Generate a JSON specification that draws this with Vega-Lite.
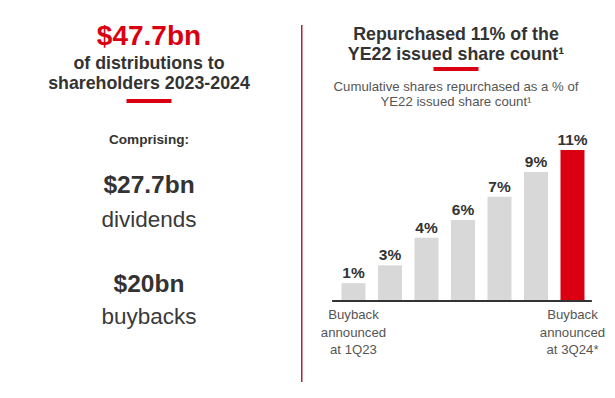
{
  "$schema": "https://vega.github.io/schema/vega-lite/v6.json",
  "padding": 0,
  "background": "white",
  "config": {"view": {"stroke": null}, "text": {"font": "Liberation Sans"}},
  "datasets": {
    "left": [
      {"id": "L1", "text": "$47.7bn"},
      {"id": "L2", "text": "of distributions to"},
      {"id": "L3", "text": "shareholders 2023-2024"},
      {"id": "L4", "text": "Comprising:"},
      {"id": "L5", "text": "$27.7bn"},
      {"id": "L6", "text": "dividends"},
      {"id": "L7", "text": "$20bn"},
      {"id": "L8", "text": "buybacks"}
    ],
    "right": [
      {"id": "R1", "text": "Repurchased 11% of the"},
      {"id": "R2", "text": "YE22 issued share count¹"},
      {"id": "R3", "text": "Cumulative shares repurchased as a % of"},
      {"id": "R4", "text": "YE22 issued share count¹"}
    ],
    "decor": [
      {"element": "underline"},
      {"element": "divider"},
      {"element": "gap"}
    ],
    "buybacks": [
      {"quarter": "1Q23", "pct": 1.3, "label": "1%", "status": "completed"},
      {"quarter": "2Q23", "pct": 2.6, "label": "3%", "status": "completed"},
      {"quarter": "3Q23", "pct": 4.6, "label": "4%", "status": "completed"},
      {"quarter": "4Q23", "pct": 5.9, "label": "6%", "status": "completed"},
      {"quarter": "1Q24", "pct": 7.6, "label": "7%", "status": "completed"},
      {"quarter": "2Q24", "pct": 9.4, "label": "9%", "status": "completed"},
      {"quarter": "3Q24", "pct": 11.0, "label": "11%", "status": "latest"}
    ]
  },
  "hconcat": [
    {
      "hconcat": [
        {
          "vconcat": [
            {"width": 298, "height": 52, "data": {"name": "left"}, "transform": [{"filter": "datum.id === 'L1'"}],
             "mark": {"type": "text", "font": "Liberation Sans", "fontSize": 28, "fontWeight": "bold", "color": "#db0011", "dy": 11},
             "encoding": {"text": {"field": "text"}}},
            {"width": 298, "height": 21.5, "data": {"name": "left"}, "transform": [{"filter": "datum.id === 'L2'"}],
             "mark": {"type": "text", "font": "Liberation Sans", "fontSize": 17.8, "fontWeight": "bold", "color": "#333333", "dy": 0.95},
             "encoding": {"text": {"field": "text"}}},
            {"width": 298, "height": 24.5, "data": {"name": "left"}, "transform": [{"filter": "datum.id === 'L3'"}],
             "mark": {"type": "text", "font": "Liberation Sans", "fontSize": 17.8, "fontWeight": "bold", "color": "#333333", "dy": -2.75},
             "encoding": {"text": {"field": "text"}}},
            {"width": 45, "height": 4, "data": {"name": "decor"}, "transform": [{"filter": "datum.element === 'underline'"}],
             "mark": {"type": "rect", "color": "#db0011"}},
            {"width": 298, "height": 60, "data": {"name": "left"}, "transform": [{"filter": "datum.id === 'L4'"}],
             "mark": {"type": "text", "font": "Liberation Sans", "fontSize": 13.6, "fontWeight": "bold", "color": "#333333", "dy": 6.7},
             "encoding": {"text": {"field": "text"}}},
            {"width": 298, "height": 39.5, "data": {"name": "left"}, "transform": [{"filter": "datum.id === 'L5'"}],
             "mark": {"type": "text", "font": "Liberation Sans", "fontSize": 24.5, "fontWeight": "bold", "color": "#333333", "dy": 3.25},
             "encoding": {"text": {"field": "text"}}},
            {"width": 298, "height": 48.5, "data": {"name": "left"}, "transform": [{"filter": "datum.id === 'L6'"}],
             "mark": {"type": "text", "font": "Liberation Sans", "fontSize": 22.5, "color": "#3a3a3a", "dy": -7.75},
             "encoding": {"text": {"field": "text"}}},
            {"width": 298, "height": 49, "data": {"name": "left"}, "transform": [{"filter": "datum.id === 'L7'"}],
             "mark": {"type": "text", "font": "Liberation Sans", "fontSize": 24.5, "fontWeight": "bold", "color": "#333333", "dy": 8.5},
             "encoding": {"text": {"field": "text"}}},
            {"width": 298, "height": 31, "data": {"name": "left"}, "transform": [{"filter": "datum.id === 'L8'"}],
             "mark": {"type": "text", "font": "Liberation Sans", "fontSize": 22.5, "color": "#3a3a3a", "dy": 0.5},
             "encoding": {"text": {"field": "text"}}}
          ],
          "spacing": 0,
          "bounds": "flush",
          "center": true
        },
        {
          "vconcat": [
            {"width": 1.5, "height": 25, "data": {"name": "decor"}, "transform": [{"filter": "datum.element === 'gap'"}],
             "mark": {"type": "rect", "opacity": 0}},
            {"width": 1.5, "height": 357, "data": {"name": "decor"}, "transform": [{"filter": "datum.element === 'divider'"}],
             "mark": {"type": "rect", "color": "#a6243c"}}
          ],
          "spacing": 0,
          "bounds": "flush"
        }
      ],
      "spacing": 3,
      "bounds": "full"
    },
    {
      "vconcat": [
        {"width": 271, "height": 45, "data": {"name": "right"}, "transform": [{"filter": "datum.id === 'R1'"}],
         "mark": {"type": "text", "font": "Liberation Sans", "fontSize": 17.8, "fontWeight": "bold", "color": "#333333", "dy": 12.8},
         "encoding": {"text": {"field": "text"}}},
        {"width": 271, "height": 21.3, "data": {"name": "right"}, "transform": [{"filter": "datum.id === 'R2'"}],
         "mark": {"type": "text", "font": "Liberation Sans", "fontSize": 17.8, "fontWeight": "bold", "color": "#333333", "dy": -0.35},
         "encoding": {"text": {"field": "text"}}},
        {"width": 45, "height": 4, "data": {"name": "decor"}, "transform": [{"filter": "datum.element === 'underline'"}],
         "mark": {"type": "rect", "color": "#db0011"}},
        {"width": 271, "height": 23.7, "data": {"name": "right"}, "transform": [{"filter": "datum.id === 'R3'"}],
         "mark": {"type": "text", "font": "Liberation Sans", "fontSize": 13.2, "color": "#555555", "dy": 4.15},
         "encoding": {"text": {"field": "text"}}},
        {"width": 271, "height": 16, "data": {"name": "right"}, "transform": [{"filter": "datum.id === 'R4'"}],
         "mark": {"type": "text", "font": "Liberation Sans", "fontSize": 13.2, "color": "#555555", "dy": -0.7},
         "encoding": {"text": {"field": "text"}}},
        {
          "width": 271,
          "height": 190,
          "data": {"name": "buybacks"},
          "layer": [
            {
              "mark": {"type": "bar"},
              "encoding": {
                "x": {"field": "quarter", "type": "nominal", "sort": null,
                      "scale": {"paddingInner": 0.3425, "paddingOuter": 0.3836, "align": 0.75},
                      "axis": {"title": null, "domain": false, "ticks": false, "tickSize": 0, "labelAngle": 0,
                               "labelFont": "Liberation Sans", "labelFontSize": 13.2, "labelColor": "#555555",
                               "labelBaseline": "top", "labelPadding": 7.7, "labelLineHeight": 17.5,
                               "labelExpr": "datum.value === '1Q23' ? ['Buyback','announced','at 1Q23'] : datum.value === '3Q24' ? ['Buyback','announced','at 3Q24*'] : ''"}},
                "y": {"field": "pct", "type": "quantitative", "scale": {"domain": [0, 13.84], "nice": false}, "axis": null},
                "color": {"field": "status", "type": "nominal", "scale": {"domain": ["completed", "latest"], "range": ["#d8d8d8", "#db0011"]}, "legend": null}
              }
            },
            {
              "mark": {"type": "text", "font": "Liberation Sans", "fontSize": 15.5, "fontWeight": "bold", "color": "#333333", "baseline": "alphabetic", "dy": -5},
              "encoding": {
                "x": {"field": "quarter", "type": "nominal", "sort": null},
                "y": {"field": "pct", "type": "quantitative"},
                "text": {"field": "label"}
              }
            },
            {
              "mark": {"type": "rule", "color": "#333333", "strokeWidth": 1},
              "encoding": {
                "x": {"datum": "1Q23", "bandPosition": -0.375},
                "x2": {"datum": "3Q24", "bandPosition": 1.29},
                "y": {"datum": 0}
              }
            }
          ]
        }
      ],
      "spacing": 0,
      "bounds": "flush",
      "center": true
    }
  ],
  "spacing": 16.5,
  "bounds": "full"
}
